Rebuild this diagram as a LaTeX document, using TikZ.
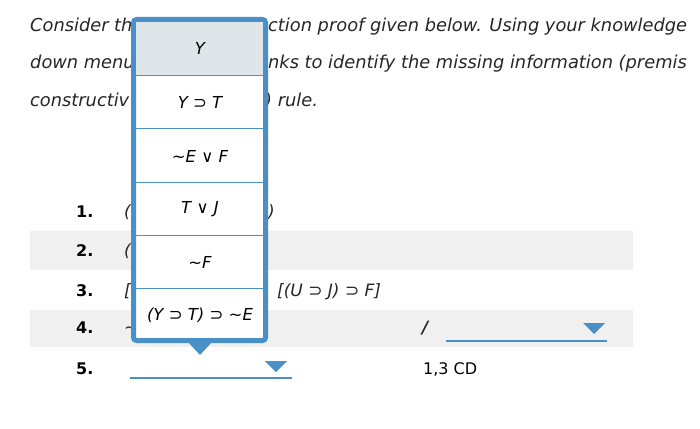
\documentclass[tikz,border=0pt]{standalone}
\usepackage{fontspec}
\setmainfont{DejaVu Sans}
\begin{document}
\begin{tikzpicture}[x=1pt,y=-1pt,
  txt/.style={anchor=base west,inner sep=0pt,font=\fontsize{17}{20}\selectfont\itshape,text=black!85},
  para/.style={txt,font=\fontsize{17.8}{20}\selectfont\itshape},
  num/.style={anchor=base west,inner sep=0pt,font=\fontsize{16}{20}\selectfont\bfseries},
  itm/.style={inner sep=0pt,font=\fontsize{16.5}{20}\selectfont\itshape},
  band/.style={fill=gray!12,draw=none},
]
\definecolor{popblue}{RGB}{74,144,200}
\definecolor{hl}{RGB}{222,230,234}
\useasboundingbox (0,0) rectangle (700,428);
\fill[white] (0,0) rectangle (700,428);
% text lines
\node[para] (l1a) at (30,31) {Consider th};
\node[para] (l1b) at (268,31) {ction proof given below. Using your knowledge};
\node[para] (l2a) at (30,68) {down menu};
\node[para] (l2b) at (268,68) {nks to identify the missing information (premis};
\node[para] (l3a) at (30,106) {constructiv};
\node[para] (l3b) at (265,106) {) rule.};
% bands
\fill[band] (30,231) rectangle (633,270);
\fill[band] (30,310) rectangle (633,347);
% numbers
\foreach \n/\y in {1/217,2/256,3/296,4/333,5/374} \node[num] (n\n) at (76,\y) {\n.};
\node[txt] (r1a) at (124,217) {(};
\node[txt] (r1b) at (268,217) {)};
\node[txt] (r2a) at (124,256) {(};
\node[txt] (r3a) at (124,296) {[};
\node[txt] (r3b) at (277,296) {[(U ⊃ J) ⊃ F]};
\node[txt] (r4a) at (124,333) {\textasciitilde};
\node[txt,font=\fontsize{17}{20}\selectfont\bfseries\itshape] (r4b) at (422,333) {/};
\node[anchor=base west,inner sep=0pt,font=\fontsize{16}{20}\selectfont] (r5b) at (423,374) {1,3 CD};
% dropdowns
\draw[popblue,line width=2pt] (446,341) coordinate (d4l) -- (607,341) coordinate (d4r);
\fill[popblue] (583,323) -- (605,323) -- (594,334) -- cycle;
\draw[popblue,line width=2pt] (130,378) coordinate (d5l) -- (292,378) coordinate (d5r);
\fill[popblue] (265,361) -- (287,361) -- (276,372) -- cycle;
% popup
\fill[popblue] (188,342) -- (212,342) -- (200,355) -- cycle;
\draw[popblue,line width=5pt,fill=white,rounded corners=3pt] (133.5,19.5) rectangle (265.5,340.5);
\fill[hl] (136,22) rectangle (263,75);
\foreach \y in {75,128,182,235,288} \draw[popblue,line width=0.8pt] (136,\y) -- (263,\y);
\node[itm] (i1) at (200,48) {Y};
\node[itm] (i2) at (200,102) {Y ⊃ T};
\node[itm] (i3) at (200,156) {\textasciitilde E ∨ F};
\node[itm] (i4) at (200,209) {T ∨ J};
\node[itm] (i5) at (200,262) {\textasciitilde F};
\node[itm] (i6) at (200,315) {(Y ⊃ T) ⊃ \textasciitilde E};
\end{tikzpicture}
\end{document}
